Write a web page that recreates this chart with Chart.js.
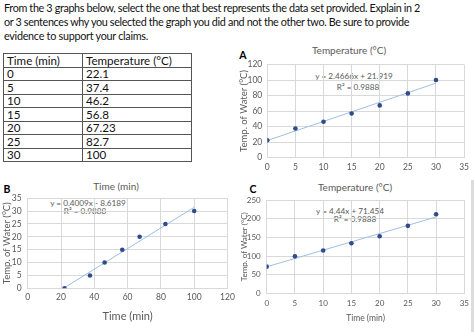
<!DOCTYPE html>
<html>
<head>
<meta charset="utf-8">
<script src="https://cdn.jsdelivr.net/npm/chart.js@4.4.1/dist/chart.umd.min.js"></script>
<style>
  html, body { margin: 0; padding: 0; background: #fff; }
  body { width: 474px; height: 332px; position: relative; overflow: hidden; font-family: Lato, "Open Sans", sans-serif; }
  .pl { position: absolute; left: 4px; font-size: 10.8px; line-height: 14px; color: #111; white-space: nowrap; }
  #tbl { position: absolute; left: 3px; top: 53px; width: 189px; height: 109px; font-size: 11.6px; color: #111; }
  .cell { position: absolute; height: 13.5px; line-height: 13.5px; padding-left: 4px; box-sizing: border-box; white-space: nowrap; }
  .hl { position: absolute; left: 0; width: 189px; height: 1px; background: #555; }
  .vl { position: absolute; top: 0; width: 1px; height: 109px; background: #555; }
  .ttl { position: absolute; color: #595959; font-size: 10px; white-space: nowrap; transform: translate(-50%, -50%); }
  .tag { position: absolute; color: #000; font-weight: bold; font-size: 10.5px; transform: translate(-50%, -50%); }
  .eq { position: absolute; color: #595959; font-size: 8.2px; white-space: nowrap; transform: translate(-50%, -50%); }
  canvas { position: absolute; }
  #strip { position: absolute; left: 471px; top: 180px; width: 3px; height: 152px; background: #dcdcdc; }
</style>
</head>
<body>
<div class="pl" style="top:1px" data-w="416">From the 3 graphs below, select the one that best represents the data set provided. Explain in 2</div>
<div class="pl" style="top:15px" data-w="405">or 3 sentences why you selected the graph you did and not the other two. Be sure to provide</div>
<div class="pl" style="top:29px" data-w="144">evidence to support your claims.</div>

<div id="tbl"></div>

<div class="tag" style="left:243px;top:55px">A</div>
<div class="ttl" style="left:349px;top:50px">Temperature (°C)</div>
<div class="eq" style="left:354px;top:76px">y = 2.4666x + 21.919</div>
<div class="eq" style="left:358px;top:87px">R² = 0.9888</div>
<canvas id="chartA" width="244" height="134" style="left:230px;top:40px"></canvas>

<div class="tag" style="left:7px;top:189px">B</div>
<div class="ttl" style="left:116px;top:186px">Time (min)</div>
<div class="eq" style="left:88px;top:203px">y = 0.4009x - 8.6189</div>
<div class="eq" style="left:85px;top:211px">R² = 0.9888</div>
<canvas id="chartB" width="240" height="154" style="left:0px;top:178px"></canvas>

<div class="tag" style="left:253px;top:189px">C</div>
<div class="ttl" style="left:355px;top:187px">Temperature (°C)</div>
<div class="eq" style="left:350px;top:211px">y = 4.44x + 71.454</div>
<div class="eq" style="left:355px;top:219px">R² = 0.9888</div>
<canvas id="chartC" width="234" height="154" style="left:240px;top:178px"></canvas>
<div id="strip"></div>

<script>
// Heating data: time in minutes and water temperature
const timeMin = [0, 5, 10, 15, 20, 25, 30];
const tempC = [22.1, 37.4, 46.2, 56.8, 67.23, 82.7, 100];
const tempF = [71.78, 99.32, 115.16, 134.24, 153.01, 180.86, 212];
const tableHeaders = ['Time (min)', 'Temperature (°C)'];
const tableTemps = ['22.1', '37.4', '46.2', '56.8', '67.23', '82.7', '100'];

// Linear trendlines as printed on each graph
const fitA = { slope: 2.4666, intercept: 21.919 };
const fitB = { slope: 0.4009, intercept: -8.6189 };
const fitC = { slope: 4.44, intercept: 71.454 };

// Fit each prompt line to its width with letter spacing
document.querySelectorAll('.pl').forEach(el => {
  const target = +el.dataset.w;
  const w = el.getBoundingClientRect().width;
  const n = el.textContent.length;
  el.style.letterSpacing = ((target - w) / n).toFixed(3) + 'px';
});

// Data table: two columns, a header row and one row per reading
(function buildTable() {
  const box = document.getElementById('tbl');
  const rowH = 13.5, colX = [0, 79], colW = [79, 110];
  const rows = [tableHeaders].concat(timeMin.map((t, i) => [String(t), tableTemps[i]]));
  let html = '';
  rows.forEach((r, ri) => {
    r.forEach((txt, ci) => {
      html += '<div class="cell" style="left:' + colX[ci] + 'px;top:' + (ri * rowH + 0.5) + 'px;width:' + colW[ci] + 'px">' + txt + '</div>';
    });
  });
  for (let i = 0; i <= rows.length; i++) html += '<div class="hl" style="top:' + Math.min(i * rowH, 108) + 'px"></div>';
  [0, 79, 188].forEach(x => { html += '<div class="vl" style="left:' + x + 'px"></div>'; });
  box.innerHTML = html;
})();

const FONT = 'Lato, "Open Sans", sans-serif';
const GRID = '#d9d9d9';
const TICK = '#595959';
const MARK = '#2f4b8e';
const TREND = '#9fbfe3';

function line(fit, x0, x1) {
  return [{ x: x0, y: fit.slope * x0 + fit.intercept }, { x: x1, y: fit.slope * x1 + fit.intercept }];
}

function makeChart(id, cfg) {
  const pts = cfg.xs.map((x, i) => ({ x: x, y: cfg.ys[i] }));
  new Chart(document.getElementById(id), {
    type: 'scatter',
    data: {
      datasets: [
        { data: cfg.trend, showLine: true, borderColor: TREND, borderWidth: 1, pointRadius: 0, order: 2 },
        { data: pts, pointRadius: 2.3, pointBackgroundColor: MARK, pointBorderColor: MARK, pointBorderWidth: 0, order: 1 }
      ]
    },
    options: {
      responsive: false,
      animation: false,
      devicePixelRatio: 1,
      layout: { padding: cfg.pad },
      plugins: { legend: { display: false }, tooltip: { enabled: false } },
      scales: {
        x: {
          type: 'linear', min: cfg.xMin, max: cfg.xMax,
          grid: { color: GRID, drawTicks: false },
          border: { color: GRID },
          ticks: { stepSize: cfg.xStep, autoSkip: false, maxRotation: 0, color: TICK, padding: cfg.xTickPad, font: { family: FONT, size: cfg.tickSize } },
          title: cfg.xTitle ? { display: true, text: cfg.xTitle, color: TICK, padding: cfg.xTitlePad, font: { family: FONT, size: cfg.xTitleSize } } : { display: false },
          afterFit: s => { s.height = cfg.xH; }
        },
        y: {
          type: 'linear', min: cfg.yMin, max: cfg.yMax,
          grid: { color: GRID, drawTicks: false },
          border: { color: GRID },
          ticks: { stepSize: cfg.yStep, autoSkip: false, color: TICK, padding: cfg.yTickPad, font: { family: FONT, size: cfg.tickSize } },
          title: { display: true, text: 'Temp. of Water (°C)', color: TICK, padding: cfg.yTitlePad, font: { family: FONT, size: cfg.yTitleSize } },
          afterFit: s => { s.width = cfg.yW; }
        }
      }
    }
  });
}

makeChart('chartA', {
  xs: timeMin, ys: tempC, trend: line(fitA, 0, 30),
  xMin: 0, xMax: 35, xStep: 5, yMin: 0, yMax: 120, yStep: 20,
  pad: { top: 24.5, right: 8.5, left: 0, bottom: 0.5 },
  xH: 16, yW: 37.3, tickSize: 8.5, xTickPad: 5, yTickPad: 5,
  yTitleSize: 9.5, yTitlePad: { top: 8, bottom: 0 }
});

makeChart('chartB', {
  xs: tempC, ys: timeMin, trend: line(fitB, 22.1, 100),
  xMin: 0, xMax: 120, xStep: 20, yMin: 0, yMax: 35, yStep: 5,
  pad: { top: 20.2, right: 12.5, left: 0, bottom: 8.7 },
  xH: 35, yW: 27.7, tickSize: 8.5, xTickPad: 4, yTickPad: 6,
  xTitle: 'Time (min)', xTitleSize: 11, xTitlePad: { top: 2, bottom: 0 },
  yTitleSize: 9.5, yTitlePad: { top: 1, bottom: 0 }
});

makeChart('chartC', {
  xs: timeMin, ys: tempF, trend: line(fitC, 0, 30),
  xMin: 0, xMax: 35, xStep: 5, yMin: 0, yMax: 250, yStep: 50,
  pad: { top: 22, right: 4.7, left: 0, bottom: 8.5 },
  xH: 30, yW: 26.7, tickSize: 8, xTickPad: 5, yTickPad: 6,
  xTitle: 'Time (min)', xTitleSize: 8.5, xTitlePad: { top: 2, bottom: 0 },
  yTitleSize: 8, yTitlePad: { top: 0, bottom: 0 }
});
</script>
</body>
</html>
